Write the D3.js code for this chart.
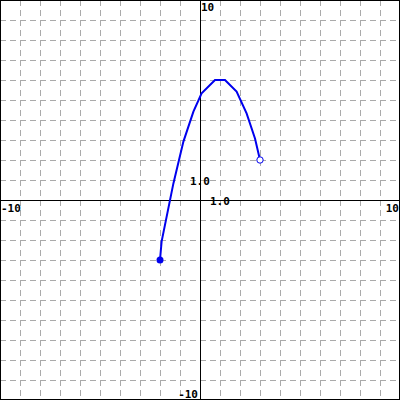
<!DOCTYPE html>
<html><head><meta charset="utf-8">
<script src="https://cdn.jsdelivr.net/npm/d3@7"></script>
<style>body{margin:0;background:#fff}</style>
</head><body>
<script>
// curve points
var xs = [-2, -1.92, -1.33, -0.83, -0.33, 0.08, 0.75, 1.25, 1.83, 2.33, 2.75, 3];
var ys = [-3, -2.08, 0.83, 2.92, 4.42, 5.33, 6, 6, 5.42, 4.33, 3.08, 2];
var gridVals = d3.range(-10, 11);

var W = 400, H = 400;
var x = d3.scaleLinear().domain([-10, 10]).range([0, 400]);
var y = d3.scaleLinear().domain([-10, 10]).range([400, 0]);

var svg = d3.select("body").append("svg").attr("width", W).attr("height", H);

// dashed grid
svg.selectAll(".gx").data(gridVals).enter().append("line")
    .attr("x1", d => x(d) + 0.5).attr("x2", d => x(d) + 0.5)
    .attr("y1", 0).attr("y2", H)
    .attr("stroke", "#aaa").attr("stroke-dasharray", "6,4");
svg.selectAll(".gy").data(gridVals).enter().append("line")
    .attr("y1", d => y(d) + 0.5).attr("y2", d => y(d) + 0.5)
    .attr("x1", 0).attr("x2", W)
    .attr("stroke", "#aaa").attr("stroke-dasharray", "6,4");

// axes
svg.append("line").attr("x1", 0).attr("x2", W).attr("y1", y(0) + 0.5).attr("y2", y(0) + 0.5).attr("stroke", "black");
svg.append("line").attr("y1", 0).attr("y2", H).attr("x1", x(0) + 0.5).attr("x2", x(0) + 0.5).attr("stroke", "black");
svg.append("rect").attr("x", 0.5).attr("y", 0.5).attr("width", W - 1).attr("height", H - 1)
    .attr("fill", "none").attr("stroke", "black");

// labels
var lab = [
  {t: "10", x: 201, y: 11, a: "start"},
  {t: "-10", x: 1, y: 212, a: "start"},
  {t: "10", x: 399, y: 212, a: "end"},
  {t: "-10", x: 198, y: 398, a: "end"},
  {t: "1.0", x: 210, y: 205, a: "start"},
  {t: "1.0", x: 190, y: 185, a: "start"}
];
svg.selectAll(".lab").data(lab).enter().append("text")
    .attr("x", d => d.x).attr("y", d => d.y).attr("text-anchor", d => d.a)
    .attr("font-family", "DejaVu Sans Mono").attr("font-weight", "bold").attr("font-size", 11)
    .text(d => d.t);

var pts = xs.map((v, i) => [v, ys[i]]);
var line = d3.line().x(d => x(d[0])).y(d => y(d[1]));
svg.append("path").datum(pts).attr("d", line)
    .attr("fill", "none").attr("stroke", "#0000ee").attr("stroke-width", 2);

svg.append("circle").attr("cx", x(xs[0])).attr("cy", y(ys[0])).attr("r", 3.5).attr("fill", "#0000ee");
svg.append("circle").attr("cx", x(xs[xs.length - 1])).attr("cy", y(ys[ys.length - 1])).attr("r", 3.2)
    .attr("fill", "white").attr("stroke", "#0000ee").attr("stroke-width", 1);
</script>
</body></html>
